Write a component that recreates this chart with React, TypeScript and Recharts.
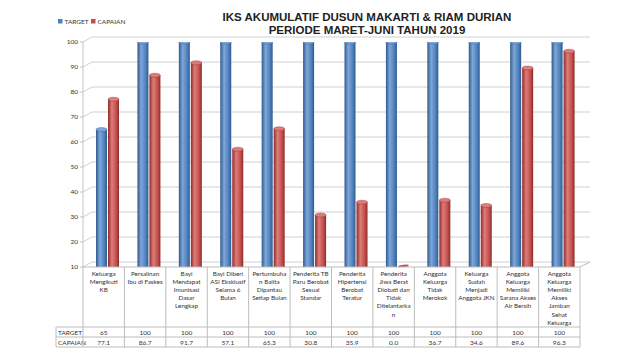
import { BarChart, Bar, XAxis, YAxis, CartesianGrid } from 'recharts';

// category labels, line-broken like the source table
const CATEGORIES: string[][] = [
  ['Keluarga', 'Mengikuti', 'KB'],
  ['Persalinan', 'Ibu di Faskes'],
  ['Bayi', 'Mendapat', 'Imunisasi', 'Dasar', 'Lengkap'],
  ['Bayi Diberi', 'ASI Eksklusif', 'Selama 6', 'Bulan'],
  ['Pertumbuha', 'n Balita', 'Dipantau', 'Setiap Bulan'],
  ['Penderita TB', 'Paru Berobat', 'Sesuai', 'Standar'],
  ['Penderita', 'Hipertensi', 'Berobat', 'Teratur'],
  ['Penderita', 'Jiwa Berat', 'Diobati dan', 'Tidak', 'Ditelantarka', 'n'],
  ['Anggota', 'Keluarga', 'Tidak', 'Merokok'],
  ['Keluarga', 'Sudah', 'Menjadi', 'Anggota JKN'],
  ['Anggota', 'Keluarga', 'Memiliki', 'Sarana Akses', 'Air Bersih'],
  ['Anggota', 'Keluarga', 'Memiliki', 'Akses', 'Jamban', 'Sehat', 'Keluarga'],
];
const TARGET = [65, 100, 100, 100, 100, 100, 100, 100, 100, 100, 100, 100];
const CAPAIAN = [77.1, 86.7, 91.7, 57.1, 65.3, 30.8, 35.9, 0.0, 36.7, 34.6, 89.6, 96.3];
const Y_TICKS = [10, 20, 30, 40, 50, 60, 70, 80, 90, 100];

const BLUE = '#4F81BD';
const RED = '#C0504D';
const FONT = 'Lato, "Open Sans", sans-serif';

const PLOT_LEFT = 83;
const PLOT_RIGHT = 580;
const COL_W = (PLOT_RIGHT - PLOT_LEFT) / CATEGORIES.length;
const TABLE_TOP = 267;
const ROW1 = 327;
const ROW2 = 337;
const TABLE_BOTTOM = 347;
const HEAD_LEFT = 56;
const SHIFT = 4;
// depth offset of the back wall
const DX = 9;
const DY = 5;

const data = CATEGORIES.map((lines, i) => ({
  name: lines.join(' '),
  target: TARGET[i],
  capaian: CAPAIAN[i],
}));

function Cylinder(props: any) {
  const { x, y, width, background, payload, index, dataKey, light, dark, base } = props;
  const floorY = background.y + background.height;
  const v = payload[dataKey];
  const rx = width / 2;
  const cx = x + SHIFT + rx;
  const id = `g-${dataKey}-${index}`;
  if (v <= Y_TICKS[0]) {
    return <ellipse cx={cx} cy={floorY - 1} rx={rx} ry={1.3} fill={base} transform={`rotate(-8 ${cx} ${floorY - 1})`} />;
  }
  return (
    <g>
      <defs>
        <linearGradient id={id} x1="0" y1="0" x2="1" y2="0">
          <stop offset="0%" stopColor={dark} />
          <stop offset="35%" stopColor={light} />
          <stop offset="75%" stopColor={base} />
          <stop offset="100%" stopColor={dark} />
        </linearGradient>
      </defs>
      <ellipse cx={cx} cy={floorY} rx={rx} ry={2} fill={`url(#${id})`} />
      <rect x={x + SHIFT} y={y} width={width} height={floorY - y} fill={`url(#${id})`} />
      <ellipse cx={cx} cy={y} rx={rx} ry={2} fill={light} stroke={dark} strokeWidth={0.4} />
    </g>
  );
}

function GridLine(p: any) {
  return (
    <path
      key={`gl-${p.index}`}
      d={`M${p.x1},${p.y1} L${p.x1 + DX},${p.y1 - DY} L${p.x2 + 10},${p.y1 - DY}`}
      stroke="#c4c4c4"
      strokeWidth={0.8}
      fill="none"
    />
  );
}

function TableTick(props: any) {
  const { x, payload } = props;
  const i = payload.index;
  const lines = CATEGORIES[i];
  const left = x - COL_W / 2;
  const right = x + COL_W / 2;
  const stroke = '#bdbdbd';
  return (
    <g fontFamily={FONT} fill="#333">
      {i === 0 && (
        <g>
          <line x1={PLOT_LEFT} y1={TABLE_TOP} x2={PLOT_RIGHT} y2={TABLE_TOP} stroke={stroke} />
          <line x1={PLOT_RIGHT} y1={TABLE_TOP} x2={PLOT_RIGHT + 10} y2={TABLE_TOP - DY} stroke={stroke} />
          {[ROW1, ROW2, TABLE_BOTTOM].map((yy) => (
            <line key={yy} x1={HEAD_LEFT} y1={yy} x2={PLOT_RIGHT} y2={yy} stroke={stroke} />
          ))}
          <line x1={HEAD_LEFT} y1={ROW1} x2={HEAD_LEFT} y2={TABLE_BOTTOM} stroke={stroke} />
          <text x={HEAD_LEFT + 2} y={ROW1 + 7.5} fontSize={6.5}>TARGET</text>
          <text x={HEAD_LEFT + 2} y={ROW2 + 7.5} fontSize={6.5}>CAPAIAN</text>
        </g>
      )}
      <line x1={left} y1={TABLE_TOP} x2={left} y2={TABLE_BOTTOM} stroke={stroke} />
      {i === CATEGORIES.length - 1 && (
        <line x1={right} y1={TABLE_TOP} x2={right} y2={TABLE_BOTTOM} stroke={stroke} />
      )}
      <text textAnchor="middle" fontSize={6.3}>
        {lines.map((l, k) => (
          <tspan key={k} x={x} y={276 + k * 8.1}>
            {l}
          </tspan>
        ))}
      </text>
      <text x={x} y={ROW1 + 7.5} textAnchor="middle" fontSize={6.5}>
        {TARGET[i]}
      </text>
      <text x={x} y={ROW2 + 7.5} textAnchor="middle" fontSize={6.5}>
        {CAPAIAN[i].toFixed(1)}
      </text>
    </g>
  );
}

export default function App() {
  return (
    <div style={{ position: 'absolute', left: 0, top: 0, width: 638, height: 359, background: '#fff' }}>
      <svg width={638} height={359} style={{ position: 'absolute', left: 0, top: 0 }}>
        <text
          x={367}
          y={21}
          textAnchor="middle"
          fontFamily='"Liberation Sans", Arial, sans-serif'
          fontWeight="bold"
          fontSize={11.5}
          fill="#222"
        >
          IKS AKUMULATIF DUSUN MAKARTI &amp; RIAM DURIAN
        </text>
        <text
          x={367}
          y={34}
          textAnchor="middle"
          fontFamily='"Liberation Sans", Arial, sans-serif'
          fontWeight="bold"
          fontSize={11.5}
          fill="#222"
        >
          PERIODE MARET-JUNI TAHUN 2019
        </text>
        <g fontFamily={FONT} fontSize={6.5} fill="#333">
          <rect x={58} y={19} width={4.5} height={4.5} fill={BLUE} />
          <text x={64.5} y={24}>TARGET</text>
          <rect x={91} y={19} width={4.5} height={4.5} fill={RED} />
          <text x={97.5} y={24}>CAPAIAN</text>
        </g>
      </svg>
      <div style={{ position: 'absolute', left: 0, top: 0 }}>
        <BarChart
          width={638}
          height={359}
          data={data}
          margin={{ top: 42, right: 58, left: 53, bottom: 12 }}
          barSize={11}
          barGap={1}
        >
          <CartesianGrid vertical={false} horizontal={GridLine} />
          <XAxis
            dataKey="name"
            interval={0}
            tickLine={false}
            axisLine={false}
            height={80}
            tick={TableTick}
          />
          <YAxis
            type="number"
            domain={[10, 100]}
            ticks={Y_TICKS}
            allowDataOverflow
            width={30}
            axisLine={{ stroke: '#c4c4c4' }}
            tickLine={{ stroke: '#c4c4c4' }}
            tickSize={3}
            tick={{ fontSize: 6.5, fill: '#333', fontFamily: FONT }}
          />
          <Bar
            dataKey="target"
            name="TARGET"
            fill={BLUE}
            isAnimationActive={false}
            shape={(p: any) => (
              <Cylinder {...p} dataKey="target" base={BLUE} light="#7FA6D8" dark="#2F5A8E" />
            )}
          />
          <Bar
            dataKey="capaian"
            name="CAPAIAN"
            fill={RED}
            isAnimationActive={false}
            shape={(p: any) => (
              <Cylinder {...p} dataKey="capaian" base={RED} light="#DE7C79" dark="#8E2B29" />
            )}
          />
        </BarChart>
      </div>
    </div>
  );
}
